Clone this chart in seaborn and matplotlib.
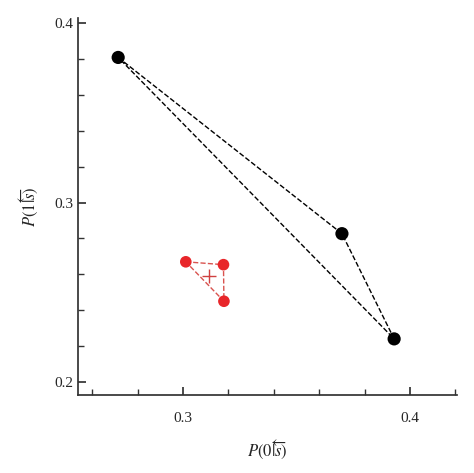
import matplotlib
matplotlib.use("Agg")
import matplotlib.pyplot as plt
import numpy as np
import seaborn as sns
from matplotlib.ticker import MultipleLocator

# black points (outer triangle) and red points (inner triangle)
black_x = [0.2714, 0.370, 0.393]
black_y = [0.381, 0.2827, 0.224]
red_x = [0.3012, 0.3178, 0.318]
red_y = [0.267, 0.2654, 0.245]
centre = (0.3115, 0.2589)

sns.set_theme(style="ticks")
plt.rcParams["font.family"] = ["Liberation Serif", "DejaVu Serif"]
plt.rcParams["mathtext.fontset"] = "stix"

fig = plt.figure(figsize=(4.74, 4.73), dpi=100)
ax = fig.add_axes([78 / 474, 78 / 473, 379 / 474, 377 / 473])

# closed dashed triangles
bx = black_x + black_x[:1]
by = black_y + black_y[:1]
rx = red_x + red_x[:1]
ry = red_y + red_y[:1]
ax.plot(bx, by, ls="--", color="black", lw=1, zorder=1)
ax.plot(rx, ry, ls="--", color="#d9534f", lw=1, zorder=1)
sns.scatterplot(x=black_x, y=black_y, color="black", s=90, edgecolor="none", ax=ax, zorder=2)
sns.scatterplot(x=red_x, y=red_y, color="#e8262a", s=70, edgecolor="none", ax=ax, zorder=2)
ax.plot(*centre, marker="+", color="#d04040", ms=10, mew=1)

ax.set_xlim(0.2537, 0.4207)
ax.set_ylim(0.1927, 0.403)
ax.xaxis.set_major_locator(MultipleLocator(0.1))
ax.yaxis.set_major_locator(MultipleLocator(0.1))
ax.xaxis.set_minor_locator(MultipleLocator(0.02))
ax.yaxis.set_minor_locator(MultipleLocator(0.02))
ax.tick_params(which="both", direction="in", labelsize=11, color="#333333")
ax.tick_params(which="major", length=6)
ax.tick_params(which="minor", length=4)
ax.tick_params(axis="x", pad=12)
for s in ["top", "right"]:
    ax.spines[s].set_visible(False)
for s in ["left", "bottom"]:
    ax.spines[s].set_color("#333333")

ax.set_xlabel(r"$P(0|\overleftarrow{s})$", fontsize=12, labelpad=10)
ax.set_ylabel(r"$P(1|\overleftarrow{s})$", fontsize=12, labelpad=10)

fig.savefig("out.png", dpi=100)
